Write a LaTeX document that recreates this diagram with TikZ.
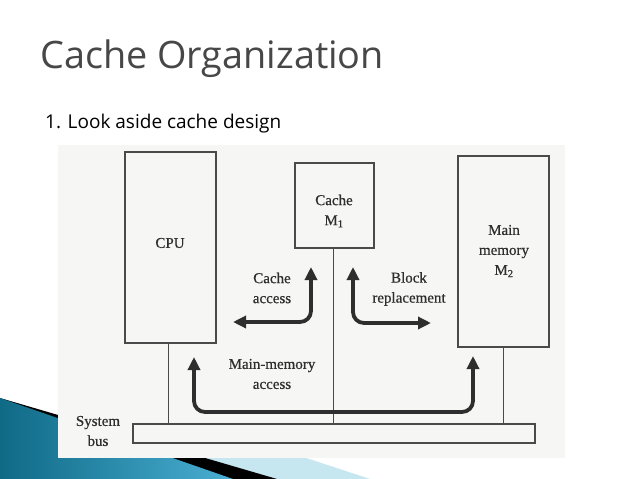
\documentclass[tikz,border=0pt]{standalone}
\usepackage{fontspec}
\setmainfont{Liberation Serif}[FakeBold=0.6]
\newfontfamily\titlefont{Open Sans}
\usetikzlibrary{arrows.meta}
\definecolor{ink}{HTML}{2E2E2E}
\definecolor{boxline}{HTML}{4A4A4A}
\definecolor{paper}{HTML}{F6F6F4}
\definecolor{titlegray}{HTML}{474747}
\definecolor{tealdark}{HTML}{0F6A86}
\definecolor{teallight}{HTML}{4AAFD3}
\definecolor{palecyan}{HTML}{C6E6F0}
\tikzset{
  unit/.style={draw=boxline, line width=1.4pt, fill=none, inner sep=0pt},
  wire/.style={draw=boxline, line width=1pt},
  twoway/.style={draw=ink, line width=3.8pt, rounded corners=11pt,
    arrows={Triangle[length=13pt,width=12pt]-Triangle[length=13pt,width=12pt]}},
  lbl/.style={text=ink, align=center, inner sep=0pt, font=\fontsize{15}{20}\selectfont},
}
\begin{document}
\begin{tikzpicture}[x=1pt,y=-1pt]
\useasboundingbox (0,0) rectangle (638,479);
\fill[white] (0,0) rectangle (638,479);
% decoration
\fill[palecyan] (130,400) -- (370,479) -- (130,479) -- cycle;
\fill[black] (0,398) -- (277,479) -- (0,479) -- cycle;
\shade[left color=tealdark, right color=teallight] (0,398) -- (233,479) -- (0,479) -- cycle;
% diagram background
\fill[paper] (58,145) rectangle (565,458);
% titles
\node[anchor=base west, inner sep=0pt, text=titlegray, font=\titlefont\fontsize{37.8}{40}\selectfont] (title) at (40,68) {Cache Organization};
\node[anchor=base west, inner sep=0pt, text=black, font=\titlefont\fontsize{19}{22}\selectfont] (sub) at (45,128) {1. Look aside cache design};
% boxes
\node[unit, minimum width=91pt, minimum height=191pt] (cpu) at (170.5,247.5) {};
\node[unit, minimum width=79pt, minimum height=85pt] (cache) at (334.5,205.5) {};
\node[unit, minimum width=91pt, minimum height=191pt] (mm) at (503.5,251.5) {};
\node[unit, minimum width=402pt, minimum height=19pt] (bus) at (334,433.5) {};
% box labels
\node[lbl] (cpulbl) at (170,243) {CPU};
\node[lbl] (cachelbl) at (334,211) {Cache\\M\textsubscript{1}};
\node[lbl] (mmlbl) at (504,251) {Main\\memory\\M\textsubscript{2}};
\node[lbl] (buslbl) at (98,431) {System\\bus};
% wires to bus
\draw[wire] (168,343) coordinate (cpuw) -- (cpuw |- bus.north);
\draw[wire] (333,248) coordinate (cachew) -- (cachew |- bus.north);
\draw[wire] (503,347) coordinate (mmw) -- (mmw |- bus.north);
% arrows
\coordinate (ca1) at (311,267);
\coordinate (ca2) at (311,322);
\coordinate (ca3) at (233,322);
\draw[twoway] (ca1) -- (ca2) -- (ca3);
\coordinate (br1) at (353,267);
\coordinate (br2) at (353,323);
\coordinate (br3) at (431,323);
\draw[twoway] (br1) -- (br2) -- (br3);
\coordinate (mm1) at (194,357);
\coordinate (mm2) at (194,412);
\coordinate (mm3) at (473,412);
\coordinate (mm4) at (473,356);
\draw[twoway] (mm1) -- (mm2) -- (mm3) -- (mm4);
% arrow labels
\node[lbl] (calbl) at (272,288) {Cache\\access};
\node[lbl] (brlbl) at (409,289) {Block\\replacement};
\node[lbl] (mmalbl) at (272,374) {Main-memory\\access};
\end{tikzpicture}
\end{document}
